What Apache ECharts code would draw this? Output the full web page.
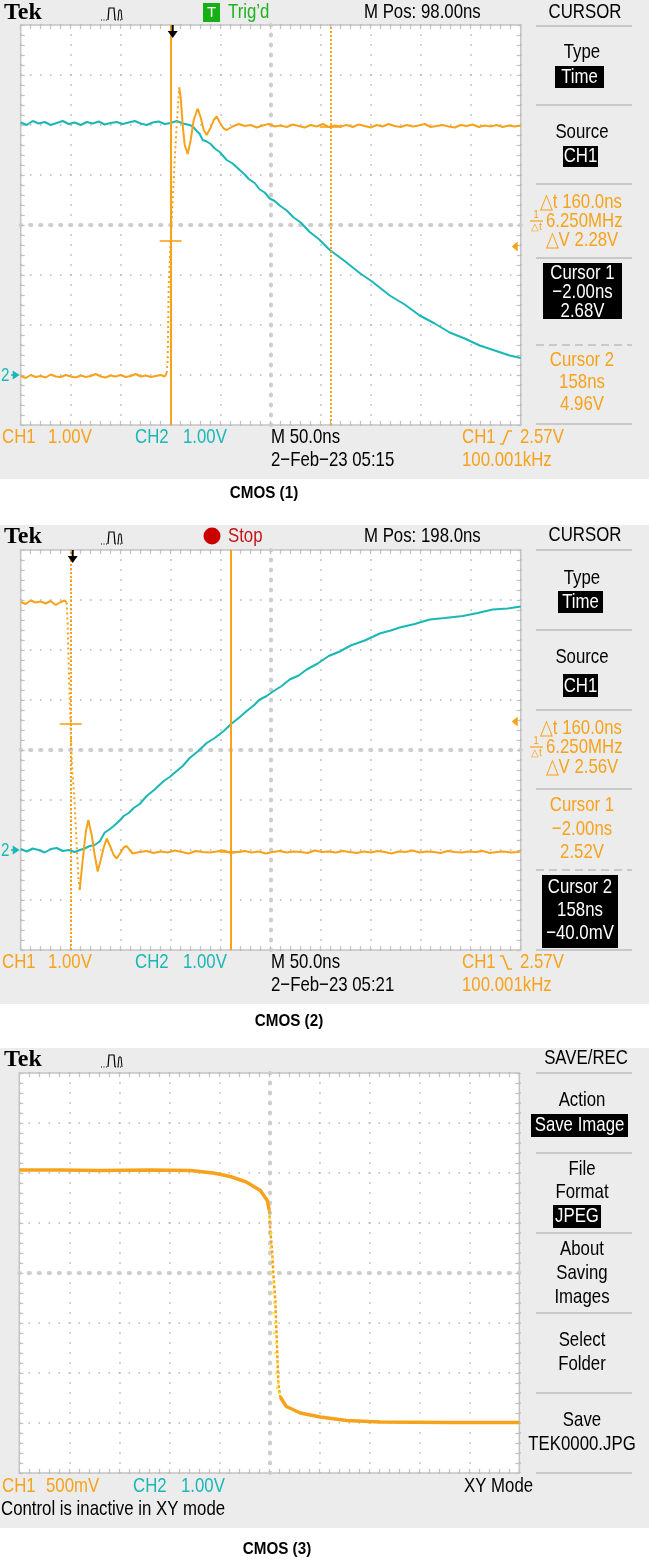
<!DOCTYPE html>
<html><head><meta charset="utf-8">
<script src="https://cdn.jsdelivr.net/npm/echarts@6/dist/echarts.min.js"></script>
<style>html,body{margin:0;padding:0;background:#fff}#c{width:649px;height:1564px}</style>
</head><body><div id="c"></div>
<script>
// ---------------- DATA ----------------
// Panel 1 (CMOS 1): time in ns, volts
const p1_ch1LowT = [-152,-147,-142,-137,-132,-127,-122,-117,-112,-107,-102,-97,-92,-87,-82,-77,-72,-67,-62,-57,-52,-47,-42,-37,-32,-27,-22,-17,-12,-8,-6];
const p1_ch1LowV = [-0.02,-0.06,0.00,-0.04,-0.02,-0.05,0.01,-0.03,-0.04,0.00,-0.03,-0.05,-0.01,-0.04,-0.02,0.02,-0.03,-0.05,-0.01,-0.03,0.00,-0.04,-0.02,0.02,-0.03,-0.01,-0.04,-0.02,0.00,-0.03,0.04];
const p1_ch1EdgeT = [-6,-5,-4,-2,0,2,4,6.5];
const p1_ch1EdgeV = [0.04,0.30,1.80,2.70,3.50,4.30,5.00,5.75];
const p1_ch1HighT = [6.5,8,10,12,15,18,21,25,28,31,34,38,41,44,47,51,54,
  60,66,72,78,84,90,96,102,108,114,120,126,132,138,144,150,156,162,168,174,180,186,192,198,204,210,216,222,228,234,240,246,252,258,264,270,276,282,288,294,300,306,312,318,324,330,336,342,348];
const p1_ch1HighV = [5.75,5.55,5.00,4.60,4.42,4.70,5.10,5.33,5.15,4.90,4.80,4.95,5.10,5.17,5.05,4.93,4.90,
  4.97,5.02,4.98,5.00,4.95,4.99,5.02,4.97,4.99,4.96,5.01,4.98,4.95,5.00,4.97,5.02,4.96,4.99,4.97,5.00,
  4.96,5.01,4.98,4.95,5.00,4.97,5.02,4.98,4.96,5.00,4.97,4.99,5.02,4.96,4.98,5.00,4.97,4.95,5.00,4.98,
  5.01,4.96,4.99,4.97,5.00,4.96,4.99,4.97,4.99];
const p1_ch2T = [-152,-146,-140,-134,-128,-122,-116,-110,-104,-98,-92,-86,-80,-74,-68,-62,-56,-50,-44,-38,-32,-26,-20,-14,-8,-2,4,10,
  17,21,24,27,30,34,38,42,47,54,60,67,72,76,82,87,92,97,102,107,114,121,128,137,146,157,
  170,187,200,217,232,247,262,277,292,307,322,337,348];
const p1_ch2V = [5.05,5.00,5.08,5.03,5.06,5.00,5.04,5.08,5.02,5.05,5.00,5.06,5.03,5.07,5.01,5.04,5.06,5.02,5.05,5.08,5.03,5.00,5.05,5.07,5.02,5.04,5.08,5.03,
  5.00,4.95,4.88,4.82,4.70,4.67,4.62,4.53,4.46,4.30,4.23,4.10,4.01,3.92,3.84,3.71,3.65,3.53,3.48,3.39,3.29,3.15,3.05,2.86,2.72,2.50,
  2.31,2.04,1.86,1.59,1.41,1.19,1.03,0.85,0.73,0.59,0.49,0.39,0.34];
const p1_cursorT = [-2.00, 158];
const p1_cursorV = [2.68, 4.96];

// Panel 2 (CMOS 2)
const p2_ch1HighT = [-52,-47,-42,-37,-32,-27,-22,-17,-12,-8,-6];
const p2_ch1HighV = [4.96,4.92,4.99,4.95,4.97,4.93,4.98,4.90,4.96,4.99,4.95];
const p2_ch1EdgeT = [-6,-5,-3.5,-2,-0.5,1.5,3.5,5.5,7];
const p2_ch1EdgeV = [4.95,4.50,3.30,2.40,1.60,1.10,0.30,-0.50,-0.80];
const p2_ch1LowT = [7,10,13,15.6,19,22,25,28,31,34,38,41,44,48,51,54,57,60,
  67,74,81,88,95,102,109,116,123,130,137,144,151,158,165,172,179,186,193,200,207,214,221,228,235,242,249,256,263,270,277,284,291,298,305,312,319,326,333,340,347,354,361,368,375,382,389,396,403,410,417,424,431,438,445,448];
const p2_ch1LowV = [-0.80,-0.20,0.35,0.60,0.30,-0.10,-0.43,-0.20,0.05,0.23,0.05,-0.10,-0.17,-0.05,0.05,0.08,0.00,-0.07,
  -0.04,-0.02,-0.06,-0.03,-0.05,-0.01,-0.04,-0.07,-0.02,-0.04,-0.05,-0.03,-0.01,-0.06,-0.04,-0.02,-0.05,-0.03,-0.07,-0.04,
  -0.02,-0.05,-0.03,-0.04,-0.06,-0.01,-0.04,-0.03,-0.05,-0.02,-0.04,-0.06,-0.03,-0.05,-0.02,-0.04,-0.07,-0.03,-0.04,-0.01,
  -0.05,-0.03,-0.04,-0.06,-0.02,-0.04,-0.05,-0.03,-0.04,-0.02,-0.06,-0.04,-0.03,-0.05,-0.04,-0.03];
const p2_ch2T = [-52,-46,-40,-34,-28,-22,-16,-10,-4,2,
  7,12,17,22,27,32,36,41,46,51,56,61,67,74,82,91,97,104,110,117,125,134,142,151,159,166,174,181,187,194,201,209,217,226,234,245,256,267,278,292,307,318,327,342,357,372,390,405,420,435,448];
const p2_ch2V = [0.02,-0.03,0.03,0.00,-0.05,0.02,0.04,-0.02,0.00,-0.04,
  0.00,0.03,0.08,0.10,0.17,0.35,0.40,0.48,0.57,0.68,0.74,0.84,0.92,1.08,1.21,1.38,1.46,1.58,1.68,1.84,1.97,2.14,2.24,2.38,2.53,2.64,2.78,2.89,3.01,3.08,3.18,3.28,3.41,3.49,3.61,3.73,3.88,3.97,4.09,4.19,4.33,4.39,4.45,4.52,4.61,4.64,4.68,4.74,4.81,4.83,4.87];
const p2_cursorT = [-2.00, 158];
const p2_cursorV = [2.52, -0.04];

// Panel 3 (CMOS 3): XY mode, CH1 (Vin) vs CH2 (Vout), volts
const p3_upperIn  = [0,0.41,0.81,1.31,1.71,1.94,2.11,2.27,2.41,2.48,2.50];
const p3_upperOut = [5.06,5.06,5.05,5.06,5.05,5.00,4.93,4.82,4.65,4.45,4.25];
const p3_steepIn  = [2.50,2.51,2.53,2.54,2.56,2.57,2.58,2.59,2.61];
const p3_steepOut = [4.25,3.85,3.39,2.99,2.45,1.92,1.39,0.79,0.52];
const p3_lowerIn  = [2.61,2.67,2.81,3.01,3.27,3.61,4.31,5.00];
const p3_lowerOut = [0.52,0.33,0.20,0.12,0.05,0.02,0.01,0.01];
const p3_dotIn  = [2.50,2.52,2.51,2.53,2.52,2.54,2.53,2.55,2.54,2.56,2.55,2.57,2.56,2.58,2.57,2.59,2.58,2.60];
const p3_dotOut = [4.10,3.80,3.50,3.30,3.00,2.80,2.60,2.40,2.20,2.00,1.80,1.60,1.40,1.20,1.00,0.80,0.70,0.60];

const TRIG_LEVEL = 2.57;

// ---------------- LAYOUT / STYLE ----------------
const ORANGE = '#f7a21b', CYAN = '#1ab7b7', GREY_BG = '#ececec', SEP = '#c9c9c9';
const UI = "'Liberation Sans', Arial, sans-serif";
const GRIDS = [
  {left:20.7, top:25,   width:500, height:400},
  {left:20.7, top:550,  width:500, height:400},
  {left:19.3, top:1073, width:500, height:400}
];
const X_RANGE = [[-152,348],[-52,448],[0,5]];
const Y_RANGE = [[-1,7],[-2,6],[-1,7]];

const grid=[], xAxis=[], yAxis=[], DA=[];
const GRID_DOT = {color:'#b8b8b8', width:1.6, type:[1.6,8.4], dashOffset:0.8};
const TICK = {color:'#c2c2c2', width:1.2};
const CENTRE = {color:'#cdcdcd', width:4, type:[1.2,8.8], dashOffset:0.6};
GRIDS.forEach((g,i)=>{
  grid.push({left:g.left, top:g.top, width:g.width, height:g.height, show:true, backgroundColor:'#fff', borderColor:'#c4c4c4', borderWidth:1.5});
  const off = {show:false, onZero:false};
  const ticks = {axisTick:{show:true, inside:true, length:4, lineStyle:TICK}, minorTick:{show:true, splitNumber:5, length:4, lineStyle:TICK}};
  const base = {gridIndex:i, type:'value', axisLabel:{show:false}, silent:true};
  xAxis.push({...base, min:0, max:10, interval:1, position:'bottom', axisLine:off, ...ticks, splitLine:{show:true, lineStyle:GRID_DOT}});
  xAxis.push({...base, min:0, max:10, interval:1, position:'top', axisLine:off, ...ticks, splitLine:{show:false}});
  xAxis.push({...base, min:0, max:10, interval:1, position:'bottom', offset:-g.height/2, axisLine:{show:true, onZero:false, lineStyle:CENTRE}, axisTick:{show:false}, splitLine:{show:false}});
  yAxis.push({...base, min:0, max:8, interval:1, position:'left', axisLine:off, ...ticks, splitLine:{show:true, lineStyle:GRID_DOT}});
  yAxis.push({...base, min:0, max:8, interval:1, position:'right', axisLine:off, ...ticks, splitLine:{show:false}});
  yAxis.push({...base, min:0, max:8, interval:1, position:'left', offset:-g.width/2, axisLine:{show:true, onZero:false, lineStyle:CENTRE}, axisTick:{show:false}, splitLine:{show:false}});
  DA.push({x:xAxis.length, y:yAxis.length});
  xAxis.push({gridIndex:i, type:'value', min:X_RANGE[i][0], max:X_RANGE[i][1], show:false});
  yAxis.push({gridIndex:i, type:'value', min:Y_RANGE[i][0], max:Y_RANGE[i][1], show:false});
});

const zip = (A,B)=>A.map((a,k)=>[a,B[k]]);
function trace(i,T,V,color,o={}){
  return {type:'line', xAxisIndex:DA[i].x, yAxisIndex:DA[i].y, data:zip(T,V), showSymbol:false, symbol:'none',
    lineStyle:{color, width:o.width||2, type:o.type||'solid'}, itemStyle:{color}, animation:false, silent:true, z:o.z||3};
}
function cursors(i,T,V,active){
  return {type:'scatter', xAxisIndex:DA[i].x, yAxisIndex:DA[i].y, data:zip(T,V), symbol:'rect', symbolSize:[22,2],
    itemStyle:{color:ORANGE}, animation:false, silent:true, z:2,
    markLine:{silent:true, symbol:'none', label:{show:false}, animation:false,
      data:T.map((t,k)=>({xAxis:t, lineStyle:{color:ORANGE, width:2, type:k===active?'solid':[2,2]}}))}};
}
const series = [
  cursors(0,p1_cursorT,p1_cursorV,0),
  trace(0,p1_ch2T,p1_ch2V,CYAN),
  trace(0,p1_ch1LowT,p1_ch1LowV,ORANGE),
  trace(0,p1_ch1EdgeT,p1_ch1EdgeV,ORANGE,{type:[2,3]}),
  trace(0,p1_ch1HighT,p1_ch1HighV,ORANGE),
  cursors(1,p2_cursorT,p2_cursorV,1),
  trace(1,p2_ch2T,p2_ch2V,CYAN),
  trace(1,p2_ch1HighT,p2_ch1HighV,ORANGE),
  trace(1,p2_ch1EdgeT,p2_ch1EdgeV,ORANGE,{type:[2,3]}),
  trace(1,p2_ch1LowT,p2_ch1LowV,ORANGE),
  trace(2,p3_upperIn,p3_upperOut,ORANGE,{width:3.5}),
  trace(2,p3_steepIn,p3_steepOut,ORANGE,{width:2.5,type:[3,2]}),
  trace(2,p3_lowerIn,p3_lowerOut,ORANGE,{width:3.5}),
  {type:'scatter', xAxisIndex:DA[2].x, yAxisIndex:DA[2].y, data:zip(p3_dotIn,p3_dotOut), symbol:'rect', symbolSize:2.5,
   itemStyle:{color:'#ffe21a'}, animation:false, silent:true, z:4}
];

const chart = echarts.init(document.getElementById('c'), null, {renderer:'canvas', width:649, height:1564});
chart.setOption({animation:false, grid, xAxis, yAxis, series});

// ---------------- DECORATION ----------------
const G = [];
function txt(s,x,y,fill,o={}){
  G.push({type:'text', x, y, scaleX:o.sx==null?0.8:o.sx, z:50, silent:true,
    style:{text:s, fill, fontSize:o.size||21, fontFamily:o.family||UI, fontWeight:o.bold?'bold':'normal',
      textAlign:o.align||'left', align:o.align||'left', textVerticalAlign:'middle', verticalAlign:'middle'}});
}
function rect(x,y,w,h,fill,z){ G.push({type:'rect', z:z==null?40:z, silent:true, shape:{x,y,width:w,height:h}, style:{fill}}); }
function ln(x1,y1,x2,y2,stroke,w,dash){ G.push({type:'line', z:45, silent:true, shape:{x1,y1,x2,y2}, style:{stroke, lineWidth:w||1.5, lineDash:dash||null}}); }
function poly(points,stroke,w){ G.push({type:'polyline', z:45, silent:true, shape:{points}, style:{stroke, lineWidth:w||1.5, fill:null}}); }
function tri(points,fill){ G.push({type:'polygon', z:46, silent:true, shape:{points}, style:{fill}}); }
function boxText(lines, x, y, w, h, ys){ rect(x,y,w,h,'#000',41); lines.forEach((s,k)=>txt(s, x+w/2, ys[k], '#fff', {align:'center'})); }
function pulseIcon(y){ ln(101,y,108,y,'#000',1.2,[1,1.5]); poly([[108,y],[109,y-12],[114,y-12],[115,y]],'#000',1.2); ln(115,y,122,y,'#000',1.2,[1,1.5]); poly([[118,y],[119,y-10],[121,y-10],[122,y]],'#000',1); }
function fraction(x,y){
  G.push({type:'text', x:x+6, y:y-6, silent:true, z:50, style:{text:'1', fill:ORANGE, fontSize:10, fontFamily:UI, textAlign:'center', align:'center', textVerticalAlign:'middle', verticalAlign:'middle'}});
  ln(x, y, x+13, y, ORANGE, 1.2);
  G.push({type:'text', x:x+6.5, y:y+6, silent:true, z:50, style:{text:'△t', fill:ORANGE, fontSize:10, fontFamily:UI, textAlign:'center', align:'center', textVerticalAlign:'middle', verticalAlign:'middle'}});
}
function seps(list, dashedIndex){ list.forEach((y,k)=>ln(536,y,632,y,SEP,2,k===dashedIndex?[8,5]:null)); }

// grey panels
rect(0,0,649,479,GREY_BG,-10); rect(0,525,649,479,GREY_BG,-10); rect(0,1048,649,480,GREY_BG,-10);

// ---- Panel 1 ----
txt('Tek',4,13,'#000',{family:"'Liberation Serif', serif",bold:true,size:24,sx:1});
pulseIcon(20);
rect(203,3,17,19,'#14b014'); txt('T',211.5,12.5,'#fff',{align:'center',size:15,sx:1});
txt('Trig’d',228,12,'#1cb31c');
txt('M Pos: 98.00ns',364,12,'#000');
txt('CURSOR',585,12,'#000',{align:'center'});
seps([26,105,184,258,345,424],4);
txt('Type',582,52,'#000',{align:'center'});
boxText(['Time'],555,66,49,22,[77]);
txt('Source',582,132,'#000',{align:'center'});
boxText(['CH1'],563,146,35,21,[156.5]);
txt('△t 160.0ns',581,202,ORANGE,{align:'center'});
fraction(530,221); txt('6.250MHz',546,221,ORANGE);
txt('△V 2.28V',582,240,ORANGE,{align:'center'});
boxText(['Cursor 1','−2.00ns','2.68V'],543,263,79,56,[273,292,311]);
txt('Cursor 2',582,360,ORANGE,{align:'center'});
txt('158ns',582,382,ORANGE,{align:'center'});
txt('4.96V',582,404,ORANGE,{align:'center'});
function bottomRow(y, date, rising){
  txt('CH1',2,y,ORANGE); txt('1.00V',48,y,ORANGE);
  txt('CH2',135,y,CYAN); txt('1.00V',183,y,CYAN);
  txt('M 50.0ns',271,y,'#000'); txt(date,271,y+23,'#000');
  txt('CH1',462,y,ORANGE);
  if (rising) poly([[500,y+7],[503,y+7],[508,y-6],[512,y-6]],ORANGE,1.6);
  else poly([[500,y-6],[503,y-6],[508,y+7],[512,y+7]],ORANGE,1.6);
  txt('2.57V',520,y,ORANGE); txt('100.001kHz',462,y+23,ORANGE);
}
bottomRow(437,'2−Feb−23 05:15',true);
txt('CMOS (1)',264,494,'#000',{bold:true,size:16,sx:0.95,align:'center'});

// ---- Panel 2 ----
txt('Tek',4,537,'#000',{family:"'Liberation Serif', serif",bold:true,size:24,sx:1});
pulseIcon(544);
G.push({type:'circle', z:45, silent:true, shape:{cx:212, cy:536, r:8.5}, style:{fill:'#c80000'}});
txt('Stop',228,536,'#c41616');
txt('M Pos: 198.0ns',364,536,'#000');
txt('CURSOR',585,535,'#000',{align:'center'});
seps([550,630,710,789,870,950],4);
txt('Type',582,578,'#000',{align:'center'});
boxText(['Time'],558,591,45,22,[602]);
txt('Source',582,657,'#000',{align:'center'});
boxText(['CH1'],563,674,35,23,[686]);
txt('△t 160.0ns',581,728,ORANGE,{align:'center'});
fraction(530,747); txt('6.250MHz',546,747,ORANGE);
txt('△V 2.56V',582,767,ORANGE,{align:'center'});
txt('Cursor 1',582,805,ORANGE,{align:'center'});
txt('−2.00ns',582,829,ORANGE,{align:'center'});
txt('2.52V',582,852,ORANGE,{align:'center'});
boxText(['Cursor 2','158ns','−40.0mV'],542,875,76,73,[887,910,933]);
bottomRow(962,'2−Feb−23 05:21',false);
txt('CMOS (2)',289,1022,'#000',{bold:true,size:16,sx:0.95,align:'center'});

// ---- Panel 3 ----
txt('Tek',4,1060,'#000',{family:"'Liberation Serif', serif",bold:true,size:24,sx:1});
pulseIcon(1067);
txt('SAVE/REC',586,1058,'#000',{align:'center'});
seps([1073,1153,1233,1313,1393,1473],-1);
txt('Action',582,1100,'#000',{align:'center'});
boxText(['Save Image'],531,1114,97,23,[1125.5]);
txt('File',582,1169,'#000',{align:'center'});
txt('Format',582,1192,'#000',{align:'center'});
boxText(['JPEG'],553,1205,48,23,[1216.5]);
txt('About',582,1249,'#000',{align:'center'});
txt('Saving',582,1273,'#000',{align:'center'});
txt('Images',582,1297,'#000',{align:'center'});
txt('Select',582,1340,'#000',{align:'center'});
txt('Folder',582,1364,'#000',{align:'center'});
txt('Save',582,1420,'#000',{align:'center'});
txt('TEK0000.JPG',582,1444,'#000',{align:'center'});
txt('CH1',2,1486,ORANGE); txt('500mV',46,1486,ORANGE);
txt('CH2',133,1486,CYAN); txt('1.00V',181,1486,CYAN);
txt('XY Mode',464,1486,'#000');
txt('Control is inactive in XY mode',1,1509,'#000');
txt('CMOS (3)',277,1550,'#000',{bold:true,size:16,sx:0.95,align:'center'});

// ---- data-driven markers (trigger time, trigger level, CH2 ground) ----
const px = (i,x,y)=>chart.convertToPixel({xAxisIndex:DA[i].x, yAxisIndex:DA[i].y},[x,y]);
[0,1].forEach(i=>{
  const top = px(i,0,Y_RANGE[i][1]);
  ln(top[0],top[1],top[0],top[1]+8,'#000',2);
  tri([[top[0]-5,top[1]+6],[top[0]+5,top[1]+6],[top[0],top[1]+13]],'#000');
  const lv = px(i,X_RANGE[i][1],TRIG_LEVEL);
  tri([[lv[0]-9,lv[1]],[lv[0]-3,lv[1]-5],[lv[0]-3,lv[1]+5]],ORANGE);
  const gnd = px(i,X_RANGE[i][0],0);
  G.push({type:'text', x:1, y:gnd[1]+0.5, z:50, silent:true, scaleX:0.8, style:{text:'2', fill:CYAN, fontSize:19, fontFamily:UI, textAlign:'left', align:'left', textVerticalAlign:'middle', verticalAlign:'middle'}});
  ln(11,gnd[1],gnd[0]-4,gnd[1],CYAN,1.5);
  tri([[gnd[0]-8,gnd[1]-4.5],[gnd[0]-1,gnd[1]],[gnd[0]-8,gnd[1]+4.5]],CYAN);
});

chart.setOption({graphic: G});
</script></body></html>
